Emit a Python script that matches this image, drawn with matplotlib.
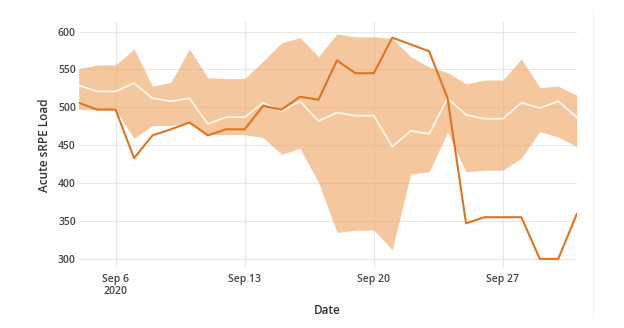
import matplotlib
matplotlib.use("Agg")
import matplotlib.pyplot as plt
import matplotlib.dates as mdates
import pandas as pd

dates = pd.date_range("2020-09-04", "2020-10-01", freq="D")

acute = [506, 497, 497, 433, 463, 471, 480, 463, 471, 471, 502, 497, 514, 510,
         562, 545, 545, 592, 583, 574, 512, 347, 355, 355, 355, 300, 300, 359]
mean = [529, 521, 521, 532, 512, 508, 512, 478, 487, 487, 506, 495, 508, 482,
        493, 489, 489, 448, 469, 465, 512, 490, 485, 485, 506, 499, 508, 487]
upper = [551, 556, 556, 577, 528, 533, 577, 539, 538, 538, 561, 585, 592, 567,
         597, 593, 593, 591, 567, 553, 546, 531, 536, 536, 564, 526, 528, 516]
lower = [497, 497, 497, 459, 476, 476, 480, 464, 464, 464, 460, 438, 446, 401,
         335, 338, 338, 312, 412, 415, 467, 415, 417, 417, 433, 468, 461, 448]

yticks = [300, 350, 400, 450, 500, 550, 600]
xticks = pd.to_datetime(["2020-09-06", "2020-09-13", "2020-09-20", "2020-09-27"])
xlabels = ["Sep 6\n2020", "Sep 13", "Sep 20", "Sep 27"]

plt.rcParams["font.family"] = ["Open Sans", "DejaVu Sans"]

fig = plt.figure(figsize=(6.24, 3.28), dpi=100)
ax = fig.add_axes([78.7 / 624, 1 - 268 / 328, (576.7 - 78.7) / 624, (268 - 21.7) / 328])

ax.fill_between(dates, lower, upper, color="#EFA35E", alpha=0.6, linewidth=0, zorder=2)
ax.plot(dates, mean, color="#FFF4EA", linewidth=1.3, zorder=3)
ax.plot(dates, acute, color="#E2731F", linewidth=1.5, zorder=4)

ax.set_xlim(dates[0], dates[-1])
ax.set_ylim(288, 613)
ax.set_yticks(yticks)
ax.set_xticks(xticks)
ax.set_xticklabels(xlabels)

ax.grid(True, color="#E8E8E8", linewidth=0.9, zorder=0)
ax.set_axisbelow(True)
for s in ax.spines.values():
    s.set_visible(False)
ax.tick_params(length=0, labelsize=7.5, colors="#444444")
for lab in ax.get_xticklabels() + ax.get_yticklabels():
    lab.set_fontweight("semibold")
ax.tick_params(axis="y", pad=2)
ax.tick_params(axis="x", pad=4)

ax.set_ylabel("Acute sRPE Load", fontsize=8.5, color="#333333", labelpad=5, fontweight="semibold")
ax.set_xlabel("Date", fontsize=8.5, color="#333333", labelpad=5, fontweight="semibold")

fig.add_artist(plt.Line2D([592.7 / 624, 592.7 / 624], [1 - 318 / 328, 1 - 10 / 328],
                          color="#F2F2F2", linewidth=0.8))

fig.savefig("out.png", dpi=100)
